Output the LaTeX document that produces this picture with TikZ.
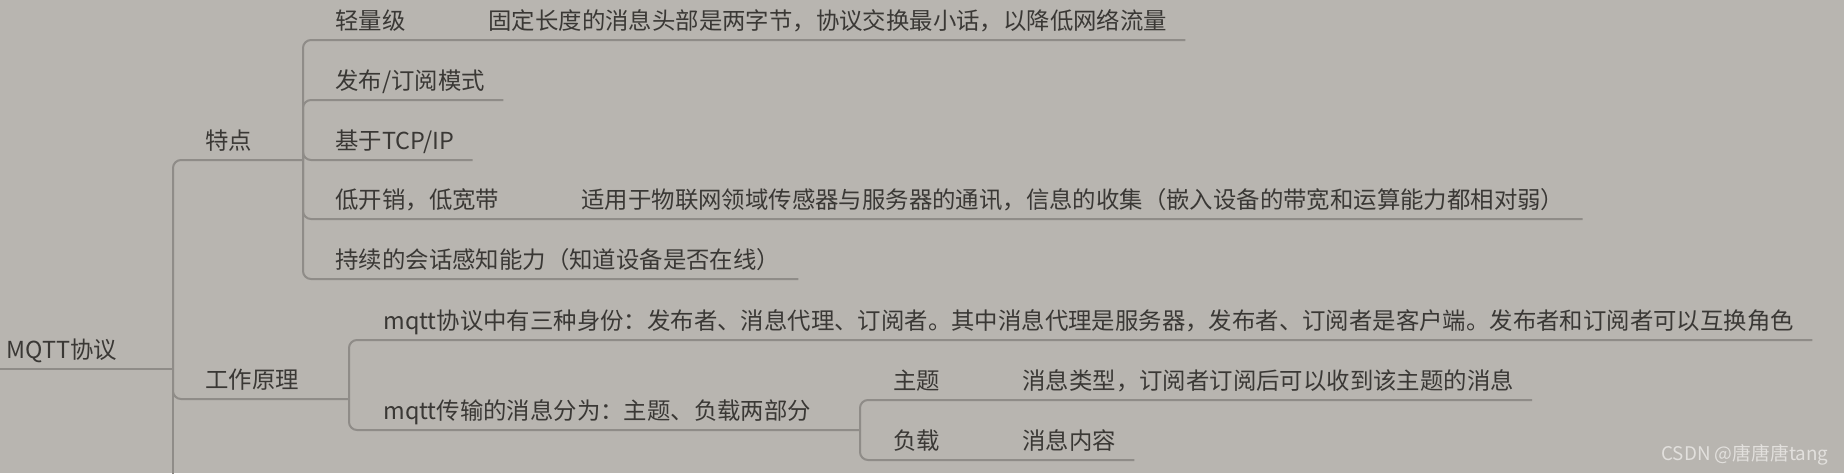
\documentclass[tikz,border=0pt]{standalone}
\usepackage{fontspec}
\setmainfont{Noto Sans CJK SC}
\usepackage{tikz}
\usetikzlibrary{calc}
\definecolor{mapbg}{RGB}{184,181,176}
\definecolor{mapline}{RGB}{143,140,136}
\definecolor{maptext}{RGB}{58,56,53}
\definecolor{markgray}{RGB}{226,224,221}

\begin{document}
\begin{tikzpicture}[
		x=0.5pt, y=-0.5pt,
		topic/.style={anchor=base west, inner sep=0pt, text=maptext, font=\fontsize{11.7}{14}\selectfont},
		branch/.style={draw=mapline, line width=1pt, rounded corners=4pt},
		wmark/.style={anchor=base west, inner sep=0pt, text=markgray, font=\fontsize{9.4}{11}\selectfont}
		]
		
			\fill[mapbg] (0,0) rectangle (1844,473);
			\useasboundingbox (0,0) rectangle (1844,473);
			
			% root and first level
			\node[topic] (root) at (6,358) {MQTT协议};
			\node[topic] (tedian) at (205,149) {特点};
			\node[topic] (gongzuo) at (205,388) {工作原理};
			
			\coordinate (rstart) at (0,369);
			\coordinate (jroot) at (173,369);
			\coordinate (jend) at (173,490);
			\coordinate (jted) at (303,160);
			\coordinate (jgz) at (349,399);
			\coordinate (jcs) at (860,430);
			
			\draw[branch] (rstart) -- (jroot);
			\draw[branch] (jroot) |- (jted);
			\draw[branch] (jroot) |- (jgz);
			\draw[branch] (jroot) -- (jend);
			
			% 特点
			\node[topic] (qingliang) at (335,29) {轻量级};
			\node[topic] (guding) at (488,29) {固定长度的消息头部是两字节，协议交换最小话，以降低网络流量};
			\node[topic] (fabu) at (335,89) {发布/订阅模式};
			\node[topic] (tcpip) at (335,149) {基于TCP/IP};
			\node[topic] (dikai) at (335,208) {低开销，低宽带};
			\node[topic] (shiyong) at (581,208) {适用于物联网领域传感器与服务器的通讯，信息的收集（嵌入设备的带宽和运算能力都相对弱）};
			\node[topic] (chixu) at (335,268) {持续的会话感知能力（知道设备是否在线）};
			
			\foreach \n in {guding,fabu,tcpip,shiyong,chixu}
				\draw[branch] (jted) |- ($(\n.base east)+(18,11)$);
			
			% 工作原理
			\node[topic] (shenfen) at (383,329) {mqtt协议中有三种身份：发布者、消息代理、订阅者。其中消息代理是服务器，发布者、订阅者是客户端。发布者和订阅者可以互换角色};
			\node[topic] (chuanshu) at (383,419) {mqtt传输的消息分为：主题、负载两部分};
			\draw[branch] (jgz) |- ($(shenfen.base east)+(18,11)$);
			\draw[branch] (jgz) |- (jcs);
			
			\node[topic] (zhuti) at (893,389) {主题};
			\node[topic] (leixing) at (1022,389) {消息类型，订阅者订阅后可以收到该主题的消息};
			\node[topic] (fuzai) at (893,449) {负载};
			\node[topic] (neirong) at (1022,449) {消息内容};
			\foreach \n in {leixing,neirong}
				\draw[branch] (jcs) |- ($(\n.base east)+(18,11)$);
			
			\node[wmark] (csdn) at (1661,460) {CSDN @唐唐唐tang};
			\end{tikzpicture}
\end{document}
